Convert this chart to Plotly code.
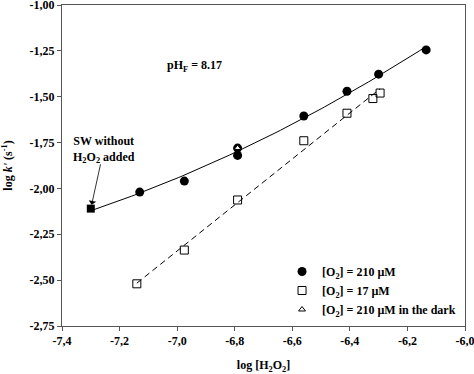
import numpy as np
import plotly.graph_objects as go

# Data
x_210 = [-7.30, -7.13, -6.975, -6.79, -6.79, -6.56, -6.41, -6.30, -6.135]
y_210 = [-2.11, -2.02, -1.96, -1.82, -1.78, -1.605, -1.47, -1.377, -1.245]
x_sw = [-7.30]
y_sw = [-2.11]
x_17 = [-7.14, -6.975, -6.79, -6.56, -6.41, -6.32, -6.295]
y_17 = [-2.52, -2.336, -2.063, -1.74, -1.59, -1.51, -1.48]
x_dark = [-6.79]
y_dark = [-1.78]

y_ticks = [-1.00, -1.25, -1.50, -1.75, -2.00, -2.25, -2.50, -2.75]
y_ticklabels = ["-1,00", "-1,25", "-1,50", "-1,75", "-2,00", "-2,25", "-2,50", "-2,75"]
x_ticks = [-7.4, -7.2, -7.0, -6.8, -6.6, -6.4, -6.2, -6.0]
x_ticklabels = ["-7,4", "-7,2", "-7,0", "-6,8", "-6,6", "-6,4", "-6,2", "-6,0"]

FONT = "Liberation Serif"

# fitted curves
c2 = np.polyfit(x_210, y_210, 2)
xf = np.linspace(min(x_210), max(x_210), 100)
yf = np.polyval(c2, xf)
c1 = np.polyfit(x_17, y_17, 1)
xl = np.array([min(x_17), max(x_17)])
yl = np.polyval(c1, xl)

fig = go.Figure()
fig.add_trace(go.Scatter(x=xf, y=yf, mode="lines", line=dict(color="black", width=1),
                         showlegend=False, hoverinfo="skip"))
fig.add_trace(go.Scatter(x=xl, y=yl, mode="lines", line=dict(color="black", width=1, dash="6px,4px"),
                         showlegend=False, hoverinfo="skip"))
fig.add_trace(go.Scatter(x=x_210[1:], y=y_210[1:], mode="markers", name="<b>[O<sub>2</sub>] = 210 µM</b>",
                         marker=dict(symbol="circle", size=9, color="black")))
fig.add_trace(go.Scatter(x=x_17, y=y_17, mode="markers", name="<b>[O<sub>2</sub>] = 17 µM</b>",
                         marker=dict(symbol="square-open", size=8, color="black", line=dict(width=1))))
fig.add_trace(go.Scatter(x=x_dark, y=y_dark, mode="markers", name="<b>[O<sub>2</sub>] = 210 µM in the dark</b>",
                         marker=dict(symbol="triangle-up", size=6, color="white", line=dict(width=1, color="black"))))
fig.add_trace(go.Scatter(x=x_sw, y=y_sw, mode="markers", showlegend=False,
                         marker=dict(symbol="square", size=8, color="black")))

fig.add_annotation(x=-7.042, y=-1.33, text="<b>pH<sub>F</sub> = 8.17</b>", showarrow=False,
                   xanchor="left", font=dict(family=FONT, size=12, color="black"))
fig.add_annotation(x=-7.30, y=-2.11, ax=-7.265, ay=-1.86, axref="x", ayref="y",
                   text="", showarrow=True, arrowhead=1, arrowsize=1.6, arrowwidth=0.8,
                   arrowcolor="black", standoff=4)
fig.add_annotation(x=-7.255, y=-1.79, text="<b>SW without<br>H<sub>2</sub>O<sub>2</sub> added</b>",
                   showarrow=False, font=dict(family=FONT, size=12, color="black"), align="center")

axis_common = dict(showgrid=False, zeroline=False, showline=True, linecolor="#555",
                   linewidth=1, mirror=True, ticks="outside", ticklen=4, tickcolor="#555",
                   automargin=False, ticklabeloverflow="allow",
                   tickfont=dict(family=FONT, size=12, color="black"))
fig.update_xaxes(range=[-7.4, -6.0], tickvals=x_ticks, ticktext=["<b>%s</b>" % t for t in x_ticklabels],
                 title=dict(text="<b>log [H<sub>2</sub>O<sub>2</sub>]</b>", font=dict(family=FONT, size=12, color="black")),
                 **axis_common)
fig.update_yaxes(range=[-2.75, -1.0], tickvals=y_ticks, ticktext=["<b>%s</b>" % t for t in y_ticklabels],
                 title=dict(text="<b>log <i>k'</i> (s<sup>-1</sup>)</b>", font=dict(family=FONT, size=12, color="black")),
                 **axis_common)

fig.update_layout(
    width=474, height=374,
    margin=dict(l=62, r=9, t=5, b=48, autoexpand=False),
    plot_bgcolor="white", paper_bgcolor="white",
    font=dict(family=FONT, size=12, color="black"),
    legend=dict(x=0.546, y=0.215, xanchor="left", yanchor="top", bgcolor="rgba(0,0,0,0)",
                font=dict(family=FONT, size=12, color="black"), itemwidth=30, tracegroupgap=0),
)
fig.write_html("out.html", config={"displayModeBar": False},
               post_script="document.body.style.margin='0';document.body.style.padding='0';")
